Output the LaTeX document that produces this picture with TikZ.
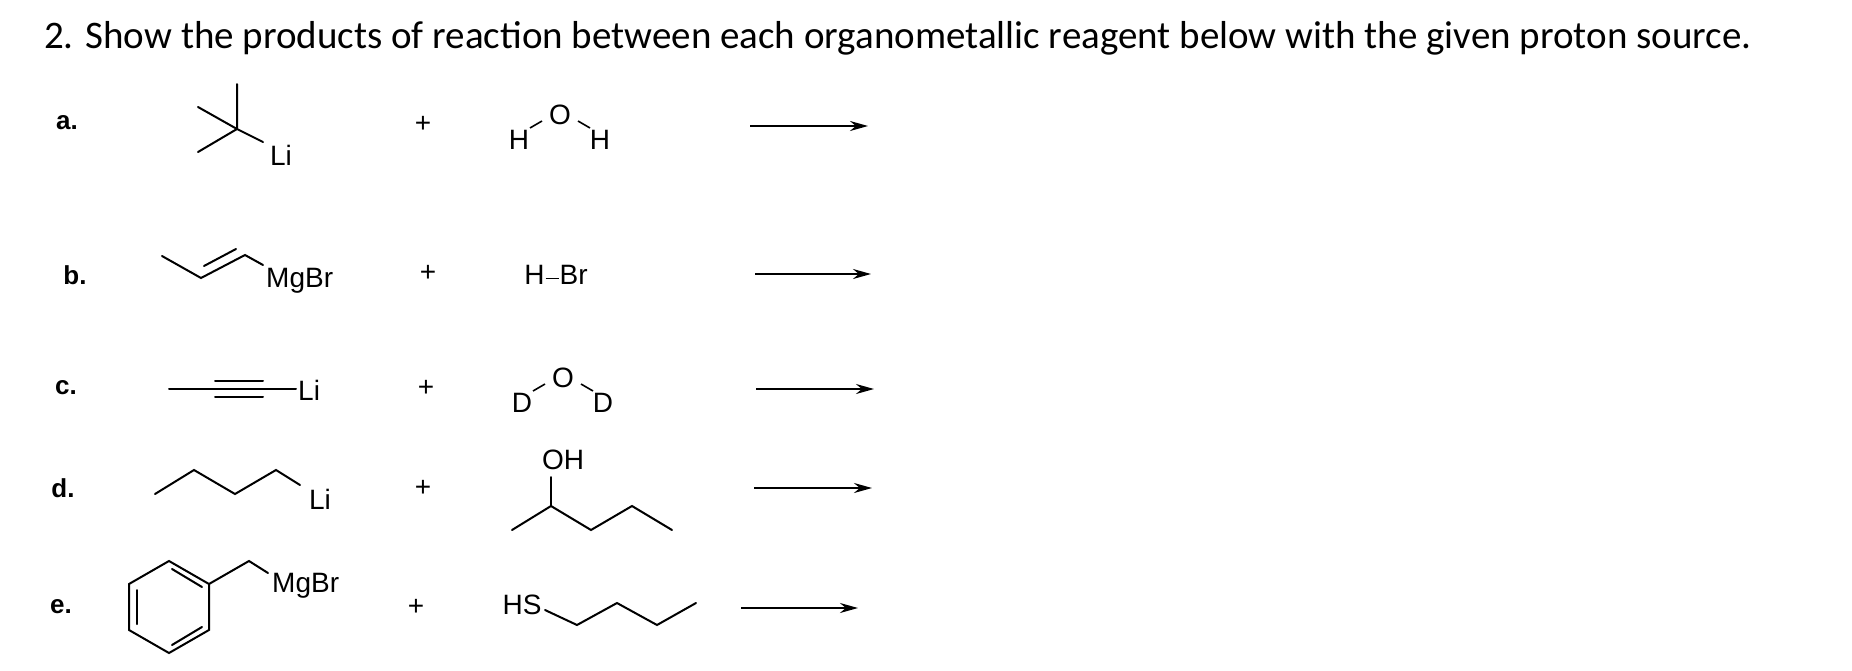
\documentclass[tikz,border=0pt]{standalone}
\usepackage{fontspec}
\setmainfont{Liberation Sans}
\newfontfamily\titlefont{Carlito}
\usetikzlibrary{arrows.meta}
\begin{document}
\begin{tikzpicture}[x=1pt,y=-1pt,
  bond/.style={line width=2pt,line cap=round},
  sbond/.style={line width=1.6pt},
  atom/.style={inner sep=0pt,font=\fontsize{28}{28}\selectfont},
  lab/.style={inner sep=0pt,font=\fontsize{26}{26}\selectfont\bfseries},
  plus/.style={inner sep=0pt,font=\fontsize{28}{28}\selectfont},
  rxn/.style={line width=2pt,-{Stealth[length=18pt,width=10pt]}}]
\useasboundingbox (0,0) rectangle (1852,670);
\node[anchor=west,inner sep=0pt,font=\titlefont\fontsize{39}{39}\selectfont] (title) at (44,38) {2. Show the products of reaction between each organometallic reagent below with the given proton source.};
% a
\node[lab] (la) at (67,123) {a.};
\draw[bond] (237,84) -- (237,129) (198,107) -- (237,129) -- (198,152) (237,129) -- (263,142);
\node[atom] (Lia) at (281,155) {Li};
\node[plus] (pa) at (423,124) {+};
\node[atom] (Oa) at (560,115) {O};
\node[atom] (Ha1) at (519,140) {H};
\node[atom] (Ha2) at (600,140) {H};
\draw[sbond] (530,128) -- (542,121);
\draw[sbond] (578,121) -- (590,128);
\coordinate (a1) at (750,126); \coordinate (a2) at (868,126);
\draw[rxn] (a1) -- (a2);
% b
\node[lab] (lb) at (75,275) {b.};
\draw[bond] (162,256) -- (201,278) -- (245,255) -- (263,265);
\draw[bond] (204,266) -- (236,249);
\node[atom,anchor=west] (MgBrb) at (266,281) {MgBr};
\node[plus] (pb) at (428,273) {+};
\node[atom] (HBr) at (556,275) {H\kern1pt\raisebox{0.35ex}{\rule{13pt}{1.6pt}}\kern1pt Br};
\coordinate (b1) at (755,274); \coordinate (b2) at (871,274);
\draw[rxn] (b1) -- (b2);
% c
\node[lab] (lc) at (66,388) {c.};
\draw[bond] (169,389) -- (296,389) (215,381) -- (263,381) (215,397) -- (263,397);
\node[atom,anchor=west] (Lic) at (298,390) {Li};
\node[plus] (pc) at (426,388) {+};
\node[atom] (Oc) at (563,378) {O};
\node[atom] (Dc1) at (522,403) {D};
\node[atom] (Dc2) at (603,403) {D};
\draw[sbond] (533,391) -- (545,384);
\draw[sbond] (581,384) -- (593,391);
\coordinate (c1) at (756,389); \coordinate (c2) at (874,389);
\draw[rxn] (c1) -- (c2);
% d
\node[lab] (ld) at (63,488) {d.};
\draw[bond] (155,494) -- (194,470) -- (235,494) -- (276,470) -- (300,485);
\node[atom] (Lid) at (320,499) {Li};
\node[plus] (pd) at (423,488) {+};
\node[atom] (OH) at (563,460) {OH};
\draw[bond] (551,477) -- (551,506);
\draw[bond] (512,530) -- (551,506) -- (591,530) -- (632,506) -- (672,530);
\coordinate (d1) at (754,488); \coordinate (d2) at (872,488);
\draw[rxn] (d1) -- (d2);
% e
\node[lab] (le) at (61,607) {e.};
\draw[bond] (169,561) -- (209,584) -- (209,630) -- (169,653) -- (129,630) -- (129,584) -- cycle;
\draw[bond] (172,569) -- (202,587);
\draw[bond] (202,627) -- (172,645);
\draw[bond] (137,590) -- (137,624);
\draw[bond] (209,584) -- (249,561) -- (268,573);
\node[atom,anchor=west] (MgBre) at (272,586) {MgBr};
\node[plus] (pe) at (416,607) {+};
\node[atom] (HS) at (522,605) {HS};
\draw[bond] (545,610) -- (577,625) -- (617,603) -- (657,625) -- (696,603);
\coordinate (e1) at (741,608); \coordinate (e2) at (858,608);
\draw[rxn] (e1) -- (e2);
\end{tikzpicture}
\end{document}
